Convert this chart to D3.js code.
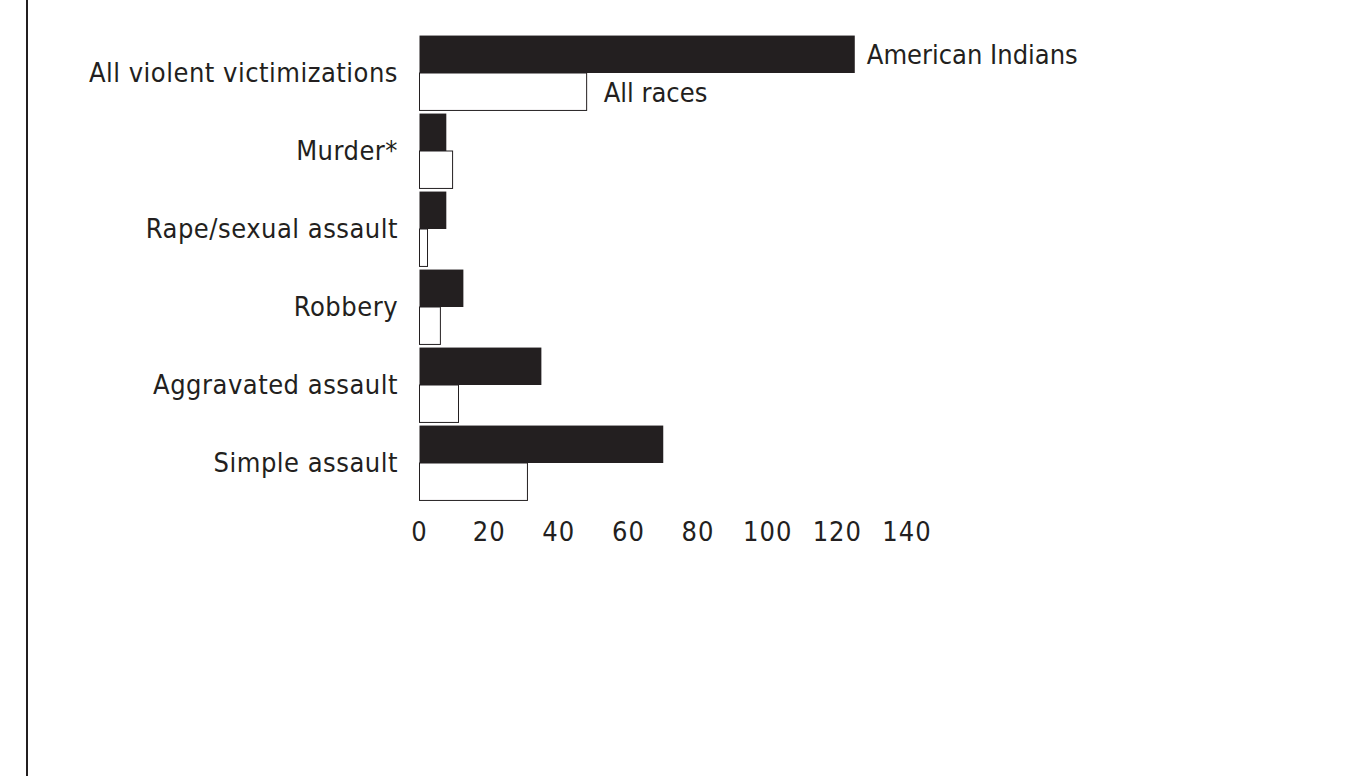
<!DOCTYPE html><html><head><script src="https://d3js.org/d3.v7.min.js"></script>
<style>body{margin:0;background:#fff}text{font-family:"DejaVu Sans Condensed","DejaVu Sans";fill:#231f20}</style></head><body>
<svg width="1354" height="776"></svg>
<script>
const categories=["All violent victimizations","Murder*","Rape/sexual assault","Robbery","Aggravated assault","Simple assault"];
const americanIndians=[125,7.7,7.7,12.6,35,70];
const allRaces=[48,9.5,2.3,6,11.2,31];
const ticks=[0,20,40,60,80,100,120,140];
const svg=d3.select("svg");
svg.append("rect").attr("x",26).attr("y",0).attr("width",2).attr("height",776).attr("fill","#231f20");
const x=d3.scaleLinear().domain([0,140]).range([419.5,907]);
const y=d3.scaleBand().domain(categories).range([34,34+78*6]).paddingInner(0.04).paddingOuter(0.02);
const h=y.bandwidth()/2;
categories.forEach((c,i)=>{
  const y0=y(c);
  svg.append("rect").attr("x",x(0)).attr("y",y0).attr("width",x(americanIndians[i])-x(0)).attr("height",h).attr("fill","#231f20");
  svg.append("rect").attr("x",x(0)).attr("y",y0+h).attr("width",x(allRaces[i])-x(0)).attr("height",h).attr("fill","#fff").attr("stroke","#231f20").attr("stroke-width",1);
  svg.append("text").attr("x",398).attr("y",y0+h+9).attr("text-anchor","end").attr("font-size",27).attr("letter-spacing",0.5).text(c);
});
const f=y(categories[0]);
svg.append("text").attr("x",x(americanIndians[0])+12).attr("y",f+h/2+10).attr("font-size",27).text("American Indians");
svg.append("text").attr("x",x(allRaces[0])+17).attr("y",f+1.5*h+10).attr("font-size",27).text("All races");
const ax=svg.append("g").attr("transform","translate(0,515)");
ticks.forEach(t=>ax.append("text").attr("x",x(t)).attr("y",26).attr("text-anchor","middle").attr("font-size",27).attr("letter-spacing",1).text(t));
</script></body></html>
